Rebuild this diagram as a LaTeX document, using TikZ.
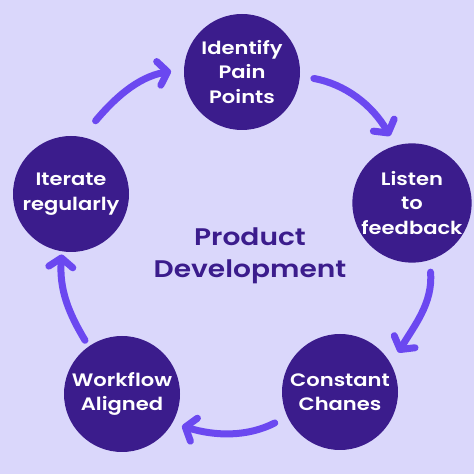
\documentclass[tikz,border=0pt]{standalone}
\usepackage{fontspec}
\setmainfont{Poppins}[BoldFont={Poppins SemiBold}, FakeStretch=1.17]
\usetikzlibrary{arrows.meta}
\definecolor{bgviolet}{HTML}{DAD7FB}
\definecolor{discviolet}{HTML}{3B1C8C}
\definecolor{arrowviolet}{HTML}{6B48F0}
\tikzset{
   disc/.style={circle, fill=discviolet, minimum size=116pt, inner sep=0pt,
      text=white, align=center, font=\bfseries\fontsize{18}{24.5}\selectfont},
   hubtext/.style={align=center, text=discviolet,
      font=\bfseries\fontsize{24}{32}\selectfont},
   flow/.style={draw=arrowviolet, line width=7pt, line cap=round,
      -{Straight Barb[length=9pt, width=24pt, round]}}
}
\begin{document}
\begin{tikzpicture}[x=1pt, y=1pt]
      \fill[bgviolet] (0,0) rectangle (474,474);
      \def \Steps {
         ident/242/402/{Identify\\Pain\\Points},
         listen/412/271/{Listen\\to\\feedback},
         const/340/82/{Constant\\Chanes},
         work/122/80/{Workflow\\Aligned},
         iter/71/280/{Iterate\\regularly}}
      \def \Flows {
         iter/79/ident/177/50/190/21/13,
         ident/356/listen/106/350/120/14/11,
         listen/287/const/28/275/60/12/14,
         const/205/work/330/207/343/14/10,
         work/125/iter/261/121/266/7/3}
      \foreach \u / \x / \y / \t in \Steps {
         \node[disc] (\u) at (\x, \y) {\t};
      }
      \node[hubtext] (hub) at (250, 218) {Product\\Development};
      \foreach \u / \a / \v / \b / \o / \i / \s / \e in \Flows {
         \path[flow, shorten <=\s pt, shorten >=\e pt] (\u.\a) to[out=\o, in=\i] (\v.\b);
      }
   \end{tikzpicture}
\end{document}
